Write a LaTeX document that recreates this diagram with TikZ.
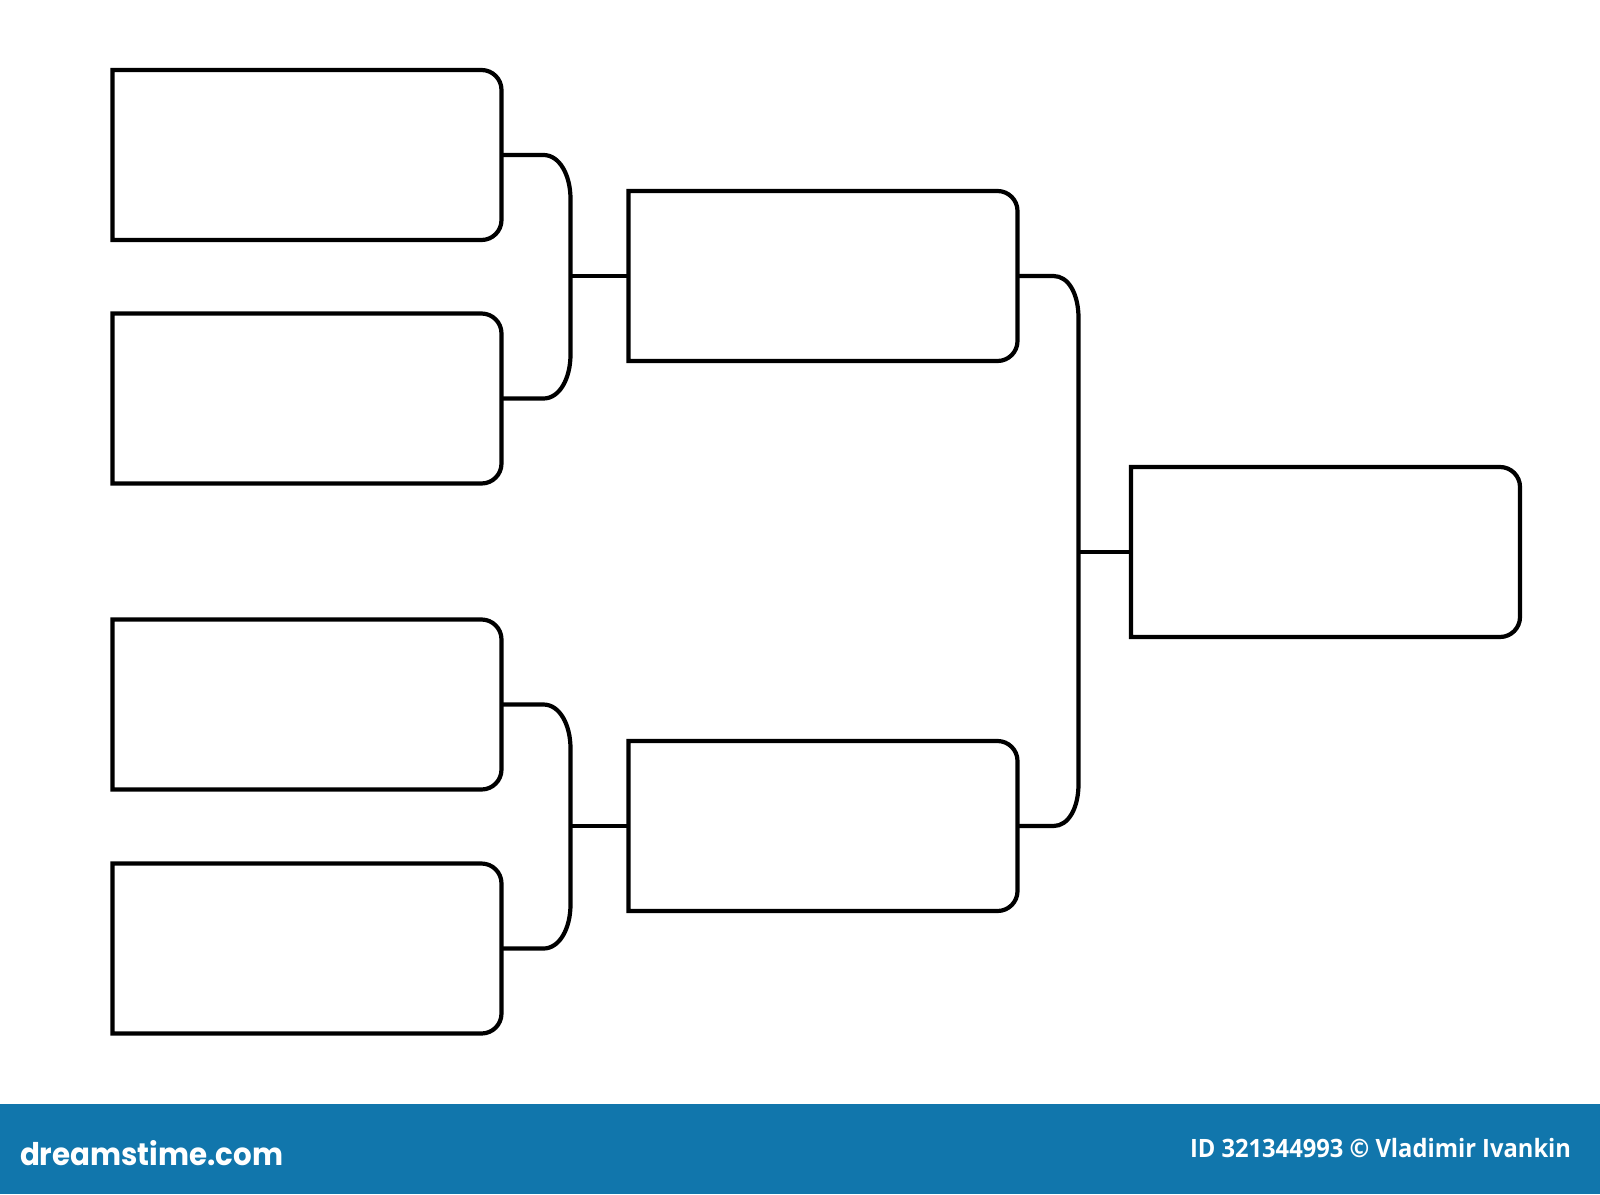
\documentclass[tikz,border=0pt]{standalone}
\usepackage{fontspec}
\usetikzlibrary{calc}
\newfontfamily\logofont{Poppins}
\newfontfamily\idfont{Open Sans}
\definecolor{barblue}{RGB}{17,118,172}
\begin{document}
\begin{tikzpicture}[x=0.5pt,y=-0.5pt,
  slot/.style={draw=none,rectangle,minimum width=194.5pt,minimum height=85pt,inner sep=0pt,outer sep=0pt},
  wire/.style={line width=2.1pt,black},
  footertext/.style={text=white,inner sep=0pt,outer sep=0pt}]
\useasboundingbox (0,0) rectangle (1600,1194);
\fill[white] (0,0) rectangle (1600,1194);

% boxes
\node[slot] (b1) at (307,155) {};
\node[slot] (b2) at (307,398.5) {};
\node[slot] (b3) at (307,704.5) {};
\node[slot] (b4) at (307,948.5) {};
\node[slot] (b5) at (823,276) {};
\node[slot] (b6) at (823,826) {};
\node[slot] (b7) at (1325.5,552) {};

\foreach \b in {b1,b2,b3,b4,b5,b6,b7}{
  \draw[wire,line join=miter] (\b.south) -- (\b.south west) -- (\b.north west)
    [rounded corners=10pt] -- (\b.north east) -- (\b.south east) -- (\b.south);
}

% joins
\coordinate (j1) at ($(b5.west)+(-58,0)$);
\coordinate (j2) at ($(b6.west)+(-58,0)$);
\coordinate (j3) at ($(b7.west)+(-54,0)$);

% round 1, top pair
\draw[wire] (b1.east) -- ($(b1.east)+(42,0)$)
  .. controls ($(b1.east)+(58,0)$) and ($(b1.east)+(69,20)$) .. ($(b1.east)+(69,44)$)
  -- ($(b2.east)+(69,-44)$)
  .. controls ($(b2.east)+(69,-20)$) and ($(b2.east)+(58,0)$) .. ($(b2.east)+(42,0)$)
  -- (b2.east);
\draw[wire] (j1) -- (b5.west);

% round 1, bottom pair
\draw[wire] (b3.east) -- ($(b3.east)+(42,0)$)
  .. controls ($(b3.east)+(58,0)$) and ($(b3.east)+(69,20)$) .. ($(b3.east)+(69,44)$)
  -- ($(b4.east)+(69,-44)$)
  .. controls ($(b4.east)+(69,-20)$) and ($(b4.east)+(58,0)$) .. ($(b4.east)+(42,0)$)
  -- (b4.east);
\draw[wire] (j2) -- (b6.west);

% round 2
\draw[wire] (b5.east) -- ($(b5.east)+(36,0)$)
  .. controls ($(b5.east)+(51,0)$) and ($(b5.east)+(61,18)$) .. ($(b5.east)+(61,42)$)
  -- ($(b6.east)+(61,-42)$)
  .. controls ($(b6.east)+(61,-18)$) and ($(b6.east)+(51,0)$) .. ($(b6.east)+(36,0)$)
  -- (b6.east);
\draw[wire] (j3) -- (b7.west);

% footer bar
\fill[barblue] (0,1104) rectangle (1600,1194);
\node[footertext,anchor=base west] (logo) at (20,1165)
  {\resizebox{131.5pt}{12.5pt}{\logofont\bfseries dreamstime.com}};
\node[footertext,anchor=base east] (credit) at (1571,1157)
  {\resizebox{190.5pt}{9.6pt}{\idfont\bfseries ID 321344993 © Vladimir Ivankin}};
\end{tikzpicture}
\end{document}
